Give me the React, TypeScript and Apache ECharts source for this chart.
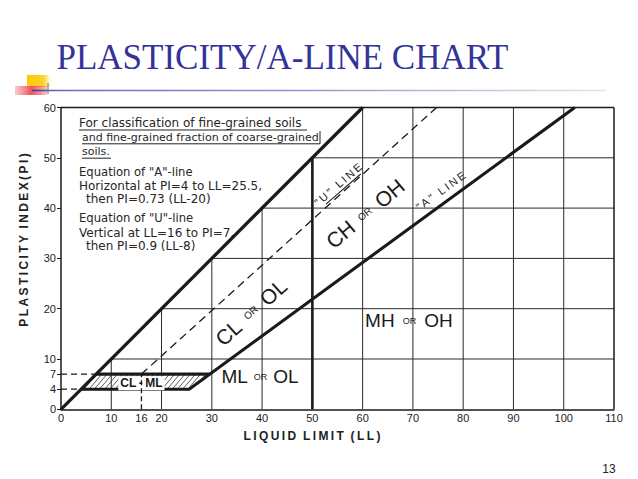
import React, { useEffect, useRef } from "react";
import * as echarts from "echarts";

// ---------- chart data ----------
const xTickValues = [0, 10, 16, 20, 30, 40, 50, 60, 70, 80, 90, 100, 110];
const yTickValues = [0, 4, 7, 10, 20, 30, 40, 50, 60];
const gridLL = [10, 20, 30, 40, 60, 70, 80, 90, 100];
const gridPI = [10, 20, 30, 40, 50];
const upperLimitLine = [[0, 0], [60, 60]];
const aLine = [[4, 4], [25.5, 4], [102.2, 60]];
const uLineVertical = [[16, 0], [16, 7]];
const uLineSloped = [[16, 7], [74.7, 60]];
const ll50Line = [[50, 0], [50, 50]];
const pi7Line = [[7, 7], [29.6, 7]];
const guide7 = [[0, 7], [7, 7]];
const guide4 = [[0, 4], [4, 4]];
const clmlZone = [[4, 4], [25.5, 4], [29.6, 7], [7, 7]];
const frameTop = [[0, 60], [110, 60]];
const frameRight = [[110, 0], [110, 60]];

const zoneLabelTexts = ["CL|OR|OL", "CH|OR|OH", "ML|OR|OL", "MH|OR|OH"];
const zoneLabelAt = [[37.8, 19.3], [60.5, 38.9], [39.6, 6.5], [69.2, 17.6]];
const lineLabelTexts = ['"U" LINE', '"A" LINE', "CL\u2009-\u2009ML"];
const lineLabelAt = [[55.1, 44.7], [75.5, 43.4], [16.0, 5.2]];

const noteLines = [
  "For classification of fine-grained soils",
  "and fine-grained fraction of coarse-grained",
  "soils.",
  'Equation of "A"-line',
  "Horizontal at PI=4 to LL=25.5,",
  "then PI=0.73 (LL-20)",
  'Equation of "U"-line',
  "Vertical at LL=16 to PI=7,",
  "then PI=0.9 (LL-8)",
];

// ---------- layout / style (not data) ----------
const zoneLabelStyle = [
  { rot: 42, size: 21, pad: 9 },
  { rot: 40, size: 21, pad: 9 },
  { rot: 0, size: 19, pad: 6 },
  { rot: 0, size: 19, pad: 8 },
];
const lineLabelStyle = [
  { rot: 41, size: 11, underline: true, bold: false, bg: false },
  { rot: 36, size: 11, underline: false, bold: false, bg: false },
  { rot: 0, size: 12, underline: false, bold: true, bg: true },
];
const noteLayout = [
  [79, 123.3, 12.0],
  [82, 137.3, 11.0],
  [82, 151.7, 11.0],
  [79, 171.7, 11.6],
  [79, 185.7, 12.0],
  [86, 199.3, 12.0],
  [79, 218.3, 11.6],
  [79, 232.7, 12.0],
  [86, 246, 12.0],
];

const INK = "#1a1a1a";
const SANS = "'Liberation Sans', Arial, sans-serif";
const NOTE_FONT = "'DejaVu Sans', sans-serif";
const spaced = (s: string) => s.split("").join("\u2009");

function segRender(width: number, color: string, dash?: number[]) {
  return (params: any, api: any) => {
    const p1 = api.coord([api.value(0), api.value(1)]);
    const p2 = api.coord([api.value(2), api.value(3)]);
    return {
      type: "line",
      shape: { x1: p1[0], y1: p1[1], x2: p2[0], y2: p2[1] },
      style: { stroke: color, lineWidth: width, lineDash: dash || null },
    };
  };
}

function lineSeries(data: number[][], width: number, dash?: any, z = 5) {
  return {
    type: "line",
    data,
    showSymbol: false,
    symbol: "none",
    silent: true,
    z,
    lineStyle: { color: INK, width, type: dash || "solid", join: "miter", cap: "butt" },
  };
}

export default function App() {
  const ref = useRef<HTMLDivElement>(null);

  useEffect(() => {
    if (!ref.current) return;
    const chart = echarts.init(ref.current, undefined, { renderer: "svg" });

    const gridSegments: number[][] = [];
    gridLL.forEach((v) => gridSegments.push([v, 0, v, Math.min(v, 60)]));
    gridPI.forEach((p) => gridSegments.push([p, p, 110, p]));
    const frameSegments = [
      [frameTop[0][0], frameTop[0][1], frameTop[1][0], frameTop[1][1]],
      [frameRight[0][0], frameRight[0][1], frameRight[1][0], frameRight[1][1]],
    ];

    const notesGraphic: any[] = noteLines.map((t, i) => ({
      type: "text",
      x: noteLayout[i][0],
      y: noteLayout[i][1],
      style: {
        text: t,
        fontFamily: NOTE_FONT,
        fontSize: noteLayout[i][2],
        fill: "#262626",
        align: "left",
        verticalAlign: "middle",
      },
    }));
    const underlines = [
      [79, 130, 307, 130],
      [82, 143.8, 320, 143.8],
      [320, 131, 320, 143.8],
      [82, 158.2, 111, 158.2],
    ];
    underlines.forEach((u) =>
      notesGraphic.push({
        type: "line",
        shape: { x1: u[0], y1: u[1], x2: u[2], y2: u[3] },
        style: { stroke: "#222", lineWidth: 1 },
      })
    );

    chart.setOption({
      animation: false,
      backgroundColor: "#ffffff",
      grid: { left: 61, right: 24, top: 107.5, bottom: 69.7 },
      xAxis: {
        type: "value",
        min: 0,
        max: 110,
        axisLine: { show: true, onZero: false, lineStyle: { color: INK, width: 1.5 } },
        axisTick: { show: false },
        splitLine: { show: false },
        axisLabel: {
          customValues: xTickValues,
          color: "#222",
          fontSize: 11,
          fontFamily: SANS,
          margin: 3,
        },
      },
      yAxis: {
        type: "value",
        min: 0,
        max: 60,
        axisLine: { show: true, onZero: false, lineStyle: { color: INK, width: 1.5 } },
        axisTick: {
          show: true,
          customValues: yTickValues,
          length: 4,
          lineStyle: { color: INK, width: 1 },
        },
        splitLine: { show: false },
        axisLabel: {
          customValues: yTickValues,
          color: "#222",
          fontSize: 11,
          fontFamily: SANS,
          margin: 5,
        },
      },
      series: [
        {
          type: "custom",
          silent: true,
          z: 1,
          renderItem: segRender(1, "#2a2a2a"),
          encode: { x: [0, 2], y: [1, 3] },
          data: gridSegments,
        },
        {
          type: "custom",
          silent: true,
          z: 2,
          clip: false,
          renderItem: segRender(1.5, INK),
          encode: { x: [0, 2], y: [1, 3] },
          data: frameSegments,
        },
        {
          type: "custom",
          silent: true,
          z: 2,
          renderItem: (params: any, api: any) => {
            const pts = clmlZone.map((p) => api.coord(p));
            const [bl, br, tr, tl] = pts;
            const yb = bl[1];
            const h = yb - tl[1];
            const s = h * 0.85;
            const dL = tl[0] - bl[0];
            const dR = tr[0] - br[0];
            const children: any[] = [];
            for (let c = bl[0] - s; c < tr[0]; c += 5.2) {
              let t0 = 0;
              let t1 = 1;
              const clipT = (a: number, b: number) => {
                if (Math.abs(b) < 1e-9) {
                  if (a < 0) { t0 = 1; t1 = 0; }
                  return;
                }
                const t = -a / b;
                if (b > 0) t0 = Math.max(t0, t);
                else t1 = Math.min(t1, t);
              };
              clipT(c - bl[0], s - dL);
              clipT(br[0] - c, dR - s);
              if (t1 > t0) {
                children.push({
                  type: "line",
                  shape: { x1: c + s * t0, y1: yb - h * t0, x2: c + s * t1, y2: yb - h * t1 },
                  style: { stroke: "#333", lineWidth: 0.8 },
                });
              }
            }
            return { type: "group", children };
          },
          data: [clmlZone[0]],
        },
        lineSeries(guide7, 1.2, [6, 4], 3),
        lineSeries(guide4, 1.2, [6, 4], 3),
        lineSeries(uLineSloped, 1.3, [8, 5], 3),
        lineSeries(upperLimitLine, 3.3, undefined, 6),
        lineSeries(aLine, 3.1, undefined, 6),
        lineSeries(ll50Line, 2.6, undefined, 6),
        lineSeries(pi7Line, 3.1, undefined, 6),
        {
          type: "custom",
          silent: true,
          z: 8,
          clip: false,
          renderItem: (params: any, api: any) => {
            const i = params.dataIndex;
            const st = zoneLabelStyle[i];
            const parts = zoneLabelTexts[i].split("|");
            const p = api.coord([api.value(0), api.value(1)]);
            return {
              type: "text",
              x: p[0],
              y: p[1],
              rotation: (st.rot * Math.PI) / 180,
              style: {
                text: `{b|${parts[0]}}{s|${parts[1]}}{b|${parts[2]}}`,
                align: "center",
                verticalAlign: "middle",
                fill: INK,
                rich: {
                  b: { fontSize: st.size, fontFamily: SANS, fill: INK, verticalAlign: "middle" },
                  s: {
                    fontSize: Math.round(st.size * 0.48),
                    fontFamily: SANS,
                    fill: INK,
                    verticalAlign: "middle",
                    padding: [0, st.pad, 0, st.pad],
                  },
                },
              },
            };
          },
          data: zoneLabelAt,
        },
        {
          type: "custom",
          silent: true,
          z: 9,
          clip: false,
          renderItem: (params: any, api: any) => {
            const i = params.dataIndex;
            const st = lineLabelStyle[i];
            const p = api.coord([api.value(0), api.value(1)]);
            const txt = lineLabelTexts[i];
            const children: any[] = [
              {
                type: "text",
                x: 0,
                y: 0,
                style: {
                  text: i < 2 ? spaced(txt) : txt,
                  align: "center",
                  verticalAlign: "middle",
                  fontSize: st.size,
                  fontFamily: SANS,
                  fontWeight: st.bold ? "bold" : "normal",
                  fill: INK,
                  backgroundColor: st.bg ? "#ffffff" : undefined,
                  padding: st.bg ? [1, 2, 1, 2] : 0,
                },
              },
            ];
            if (st.underline) {
              children.push({
                type: "line",
                shape: { x1: -22, y1: 7, x2: 24, y2: 7 },
                style: { stroke: INK, lineWidth: 1 },
              });
            }
            return {
              type: "group",
              x: p[0],
              y: p[1],
              rotation: (st.rot * Math.PI) / 180,
              children,
            };
          },
          data: lineLabelAt,
        },
        lineSeries(uLineVertical, 1.3, [5, 3], 10),
      ],
      graphic: [
        {
          type: "rect",
          shape: { x: 27, y: 75, width: 24, height: 12 },
          style: {
            fill: {
              type: "linear", x: 27, y: 0, x2: 51, y2: 0, global: true,
              colorStops: [
                { offset: 0, color: "#ffc800" },
                { offset: 0.7, color: "#ffd22a" },
                { offset: 1, color: "rgba(255,220,80,0)" },
              ],
            },
          },
        },
        {
          type: "rect",
          shape: { x: 15, y: 86, width: 32, height: 9 },
          style: {
            fill: {
              type: "linear", x: 15, y: 0, x2: 47, y2: 0, global: true,
              colorStops: [
                { offset: 0, color: "rgba(240,120,130,0.4)" },
                { offset: 0.5, color: "#ec5560" },
                { offset: 1, color: "rgba(230,60,70,0.3)" },
              ],
            },
          },
        },
        {
          type: "line",
          shape: { x1: 32, y1: 90.5, x2: 606, y2: 90.5 },
          style: {
            lineWidth: 1.6,
            stroke: {
              type: "linear", x: 32, y: 0, x2: 606, y2: 0, global: true,
              colorStops: [
                { offset: 0, color: "#3a3a9a" },
                { offset: 0.05, color: "#6a6ab8" },
                { offset: 0.5, color: "#9a9ac8" },
                { offset: 1, color: "#e4e4ee" },
              ],
            },
          },
        },
        {
          type: "line",
          shape: { x1: 48, y1: 83, x2: 48, y2: 94 },
          style: { stroke: "#6a6a80", lineWidth: 1 },
        },
        {
          type: "text",
          x: 56.5,
          y: 57.8,
          style: {
            text: "PLASTICITY/A-LINE CHART",
            fontFamily: "'Liberation Serif', 'Times New Roman', serif",
            fontSize: 35,
            fill: "#333399",
            align: "left",
            verticalAlign: "middle",
          },
        },
        {
          type: "text",
          x: 24,
          y: 240,
          rotation: Math.PI / 2,
          style: {
            text: spaced("PLASTICITY") + "  " + spaced("INDEX(PI)"),
            fontFamily: SANS,
            fontSize: 12,
            fontWeight: "bold",
            fill: "#222",
            align: "center",
            verticalAlign: "middle",
          },
        },
        {
          type: "text",
          x: 312,
          y: 436,
          style: {
            text: spaced("LIQUID") + "  " + spaced("LIMIT") + "  " + spaced("(LL)"),
            fontFamily: SANS,
            fontSize: 12,
            fontWeight: "bold",
            fill: "#222",
            align: "center",
            verticalAlign: "middle",
          },
        },
        {
          type: "text",
          x: 609,
          y: 469,
          style: {
            text: "13",
            fontFamily: SANS,
            fontSize: 12,
            fill: "#222",
            align: "center",
            verticalAlign: "middle",
          },
        },
        ...notesGraphic,
      ],
    });

    return () => chart.dispose();
  }, []);

  return (
    <div
      ref={ref}
      style={{ position: "fixed", left: 0, top: 0, width: 638, height: 479, background: "#fff" }}
    />
  );
}
